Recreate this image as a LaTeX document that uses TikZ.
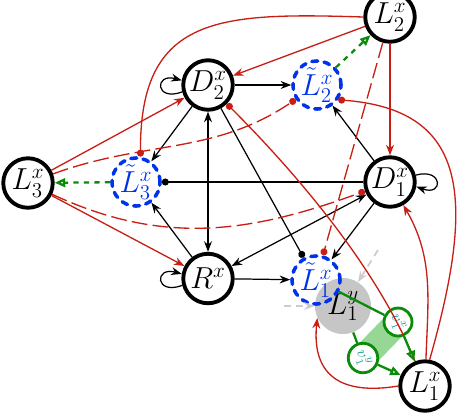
\documentclass[tikz,border=0pt]{standalone}
\usetikzlibrary{arrows.meta,backgrounds}
\definecolor{edgered}{RGB}{200,30,20}
\definecolor{tildeblue}{RGB}{0,50,235}
\definecolor{flowgreen}{RGB}{10,140,10}
\definecolor{bandgreen}{RGB}{150,215,150}
\definecolor{vtext}{RGB}{40,160,150}
\begin{document}
\begin{tikzpicture}[font=\fontsize{17}{20}\selectfont, line join=round, >={Stealth[length=6pt,width=4.5pt]},
	var/.style={circle, draw, line width=2.2pt, minimum size=0.99cm, inner sep=0pt, fill=white},
	est/.style={circle, draw=tildeblue, text=tildeblue, line width=2pt, dash pattern=on 3.4pt off 3.6pt, line cap=round, minimum size=0.93cm, inner sep=0pt},
	obs/.style={circle, fill=gray!45, minimum size=1.12cm, inner sep=0pt},
	unit/.style={circle, draw=flowgreen, line width=1.6pt, minimum size=0.49cm, inner sep=0pt, fill=white, text=vtext, font=\small},
	blk/.style={line width=0.7pt},
	infl/.style={edgered, line width=0.75pt},
	longdash/.style={dash pattern=on 9pt off 3pt},
	dotend/.style={-{Circle[length=4pt]}},
	flow/.style={flowgreen, line width=1.3pt},
	opentip/.style={-{Triangle[open, length=6pt, width=5pt]}},
	hint/.style={gray!40, line width=1pt, dash pattern=on 4pt off 3pt, -{Stealth[length=6pt,width=4.5pt]}}]
	\useasboundingbox (0,0) rectangle (9.48,-8.3);
	
	% Các nút
	\node[var] (L3) at (0.56,-3.66) {$L_3^x$};
	\node[var] (D2) at (4.16,-1.70) {$D_2^x$};
	\node[var] (L2) at (7.80,-0.34) {$L_2^x$};
	\node[var] (D1) at (7.80,-3.64) {$D_1^x$};
	\node[var] (R) at (4.16,-5.57) {$R^x$};
	\node[var] (L1x) at (8.50,-7.72) {$L_1^x$};
	\node[obs] (L1y) at (6.86,-6.12) {$L_1^y$};
	\node[est] (Lt2) at (6.34,-1.70) {$\tilde{L}_2^x$};
	\node[est] (Lt3) at (2.72,-3.64) {$\tilde{L}_3^x$};
	\node[est] (Lt1) at (6.32,-5.60) {$\tilde{L}_1^x$};
	\node[unit] (v1x) at (7.96,-6.44) {\rotatebox{-70}{$v_1^x$}};
	\node[unit] (v1y) at (7.26,-7.16) {\rotatebox{-70}{$v_1^y$}};
	\coordinate (gA) at (5.68,-6.12);
	\coordinate (gB) at (7.56,-5.00);
	
	\begin{scope}[on background layer]
		\draw[bandgreen, line width=0.52cm] (v1x.center) -- (v1y.center);
	\end{scope}
	
	% Cạnh đen
	\draw[->, blk] (D2.195) .. controls +(-0.55,-0.2) and +(-0.55,0.15) .. (D2.170);
	\draw[->, blk] (R.195) .. controls +(-0.55,-0.2) and +(-0.55,0.15) .. (R.170);
	\draw[->, blk] (D1.15) .. controls +(0.55,0.15) and +(0.55,-0.2) .. (D1.-10);
	\draw[->, blk] (D2) -- (Lt2);
	\draw[->, blk] (D2) -- (Lt3);
	\draw[<->, blk] (D2) -- (R);
	\draw[dotend, blk] (D2) -- (Lt1);
	\draw[dotend, blk] (D1) -- (Lt3);
	\draw[->, blk] (R) -- (Lt3);
	\draw[<->, blk] (R) -- (D1);
	\draw[->, blk] (R) -- (Lt1);
	\draw[->, blk] (D1) -- (Lt2);
	\draw[->, blk] (D1) -- (Lt1);
	
	% Cạnh đỏ
	\draw[->, infl] (L3) -- (D2);
	\draw[->, infl] (L3) -- (R);
	\draw[dotend, infl, longdash] (L3) to[out=20, in=214] (Lt2);
	\draw[dotend, infl, longdash] (L3) to[out=-25, in=200] (D1);
	\draw[->, infl] (L2) -- (D2);
	\draw[->, infl] (L2) -- (D1);
	\draw[dotend, infl] (L2.180) .. controls (4.4,-0.25) and (2.8,-0.3) .. (Lt3.80);
	\draw[dotend, infl, longdash] (L2) -- (Lt1);
	\draw[dotend, infl] (L1x) to[out=112, in=-45, looseness=0.8] (D2);
	\draw[->, infl] (L1x) to[out=88, in=-60] (D1);
	\draw[dotend, infl] (L1x.80) .. controls (9.5,-4.0) and (9.4,-2.2) .. (Lt2.-35);
	\draw[->, infl] (L1x.180) .. controls (6.5,-7.96) and (6.26,-7.2) .. (L1y.205);
	
	% Cạnh xanh
	\draw[flow, dashed, opentip] (Lt3) -- (L3);
	\draw[flow, dashed, opentip] (Lt2) -- (L2);
	\draw[flow] (Lt1) -- (v1x);
	\draw[flow] (L1y) -- (v1y);
	\draw[flow, opentip] (v1x) -- (L1x);
	\draw[flow, opentip] (v1y) -- (L1x);
	\draw[hint] (gA) -- (L1y);
	\draw[hint] (gB) -- (L1y);
\end{tikzpicture}
\end{document}
